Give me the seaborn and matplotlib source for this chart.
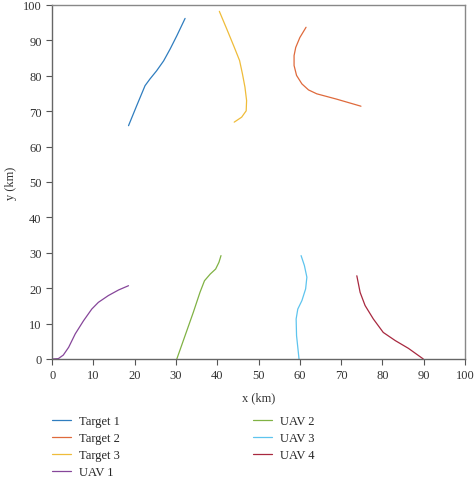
import pandas as pd
import seaborn as sns
import matplotlib.pyplot as plt

# trayectorias (km)
t1_x = [18.5, 20.5, 22.5, 23.7, 25.3, 27.0, 28.6, 30.2, 32.2]
t1_y = [65.9, 71.6, 77.2, 79.1, 81.4, 84.2, 87.6, 91.3, 96.2]

t2_x = [61.5, 60.0, 59.0, 58.6, 58.6, 59.2, 60.5, 62.1, 64.1, 68.9, 74.8]
t2_y = [93.7, 90.8, 88.0, 85.7, 82.9, 80.1, 77.7, 76.0, 74.9, 73.4, 71.4]

t3_x = [40.5, 42.3, 44.1, 45.4, 46.1, 46.7, 47.1, 47.0, 45.9, 44.1]
t3_y = [98.2, 93.2, 88.1, 84.3, 80.5, 76.8, 73.0, 70.1, 68.3, 66.9]

u1_x = [0.0, 1.5, 2.7, 4.0, 5.6, 7.6, 9.6, 11.2, 13.6, 16.1, 18.5]
u1_y = [0.0, 0.1, 1.1, 3.3, 7.1, 10.8, 14.1, 16.0, 17.9, 19.5, 20.7]

u2_x = [30.2, 32.2, 34.2, 35.8, 36.9, 38.3, 39.6, 40.4, 40.9]
u2_y = [0.0, 6.6, 13.2, 18.8, 22.1, 24.0, 25.4, 27.3, 29.2]

u3_x = [60.3, 61.1, 61.7, 61.4, 60.5, 59.5, 59.1, 59.2, 59.8]
u3_y = [29.2, 26.4, 23.1, 19.8, 16.5, 14.1, 11.3, 6.6, 0.0]

u4_x = [73.8, 74.6, 75.8, 77.8, 80.2, 83.1, 86.3, 89.9]
u4_y = [23.5, 18.8, 15.1, 11.3, 7.5, 5.2, 3.0, 0.0]

names = ['Target 1', 'Target 2', 'Target 3', 'UAV 1', 'UAV 2', 'UAV 3', 'UAV 4']
colores = ['#2f7dbf', '#df6a3c', '#efbc3a', '#86469a', '#80b244', '#5ec4ee', '#a8283f']

series = [(t1_x, t1_y), (t2_x, t2_y), (t3_x, t3_y), (u1_x, u1_y),
          (u2_x, u2_y), (u3_x, u3_y), (u4_x, u4_y)]

frames = []
for n, (xs, ys) in zip(names, series):
    frames.append(pd.DataFrame({'x': xs, 'y': ys, 'serie': n}))
df = pd.concat(frames, ignore_index=True)

sns.set_style('ticks')
plt.rcParams['font.family'] = ['Liberation Serif', 'DejaVu Serif']
plt.rcParams['lines.solid_joinstyle'] = 'round'

fig = plt.figure(figsize=(4.74, 4.81), dpi=100)
ax = fig.add_axes([0.110, 0.2516, 0.871, 0.736])

sns.lineplot(data=df, x='x', y='y', hue='serie', palette=colores, sort=False,
             estimator=None, units='serie', linewidth=0.9, ax=ax)

ax.set_xlim(0, 100)
ax.set_ylim(0, 100)
ax.set_xticks(range(0, 101, 10))
ax.set_yticks(range(0, 101, 10))
ax.set_xlabel('x (km)', fontsize=9, color='#333333', labelpad=7)
ax.set_ylabel('y (km)', fontsize=9, color='#333333')
ax.tick_params(labelsize=9, colors='#555555', labelcolor='#333333', length=4, width=0.8)

for s in ['top', 'right']:
    ax.spines[s].set_color('#888888')
for s in ['left', 'bottom']:
    ax.spines[s].set_color('#666666')
for s in ax.spines.values():
    s.set_linewidth(1.0)

ax.get_legend().remove()
h, l = ax.get_legend_handles_labels()
fig.legend(h, l, loc='upper left', bbox_to_anchor=(0.100, 0.145), ncol=2,
           frameon=False, fontsize=9, labelspacing=0.4, columnspacing=10.7,
           handlelength=1.5, handletextpad=0.6, borderaxespad=0)

fig.savefig('out.png', dpi=100)
